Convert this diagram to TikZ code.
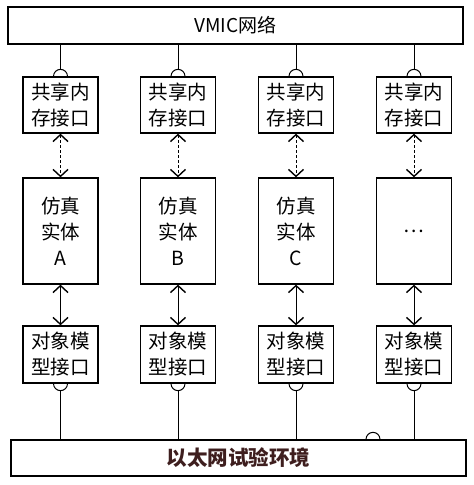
\documentclass[tikz,border=0pt]{standalone}
\usepackage{fontspec}
\setmainfont{Noto Sans CJK SC}
\usetikzlibrary{arrows.meta}
\definecolor{envtext}{RGB}{62,30,30}
\tikzset{
  box/.style = {draw, line width=1.3pt, align=center, inner sep=0pt,
                font=\fontsize{19.5}{26}\selectfont},
  wire/.style = {line width=1pt},
  barb/.tip = {Straight Barb[length=7pt, width=15pt, line width=1.4pt]}
}
\begin{document}
\begin{tikzpicture}[x=1pt, y=1pt]

   \useasboundingbox (0,0) rectangle (474,485);

   \node [box, minimum width=455pt, minimum height=37pt, font=\fontsize{19}{19}\selectfont] (vmic) at (235.5,459.5) {VMIC网络};
   \node [box, minimum width=455pt, minimum height=36pt, font=\fontsize{20.5}{20.5}\selectfont\bfseries, text=envtext] (ether) at (238.5,27) {以太网试验环境};

   \node [box, minimum width=75pt, minimum height=106pt] (sim1) at (60.5,254) {仿真\\实体\\A};
   \node [box, minimum width=75pt, minimum height=106pt] (sim2) at (178,254) {仿真\\实体\\B};
   \node [box, minimum width=75pt, minimum height=106pt] (sim3) at (296,254) {仿真\\实体\\C};
   \node [box, minimum width=75pt, minimum height=106pt] (sim4) at (414,254) {…};

   \foreach \i in {1,...,4} {
     \node [box, minimum width=75pt, minimum height=56pt] (shm\i) at (sim\i |- 0,380) {共享内\\存接口};
     \node [box, minimum width=75pt, minimum height=57pt] (omi\i) at (sim\i |- 0,130.5) {对象模\\型接口};

     \draw [wire] (vmic.south -| shm\i.north) -- ([yshift=7pt]shm\i.north);
     \draw [wire] ([xshift=-7pt]shm\i.north) arc (180:0:7pt);
     \draw [wire, barb-barb, dash pattern=on 3pt off 2pt] (shm\i) -- (sim\i);
     \draw [wire, barb-barb] (sim\i) -- (omi\i);
     \draw [wire] ([xshift=-7pt]omi\i.south) arc (180:360:7pt);
     \draw [wire] ([yshift=-7pt]omi\i.south) -- (ether.north -| omi\i.south);
   }

   \draw [wire] (ether.north) ++(127.5,0) arc (180:0:7);

\end{tikzpicture}
\end{document}
